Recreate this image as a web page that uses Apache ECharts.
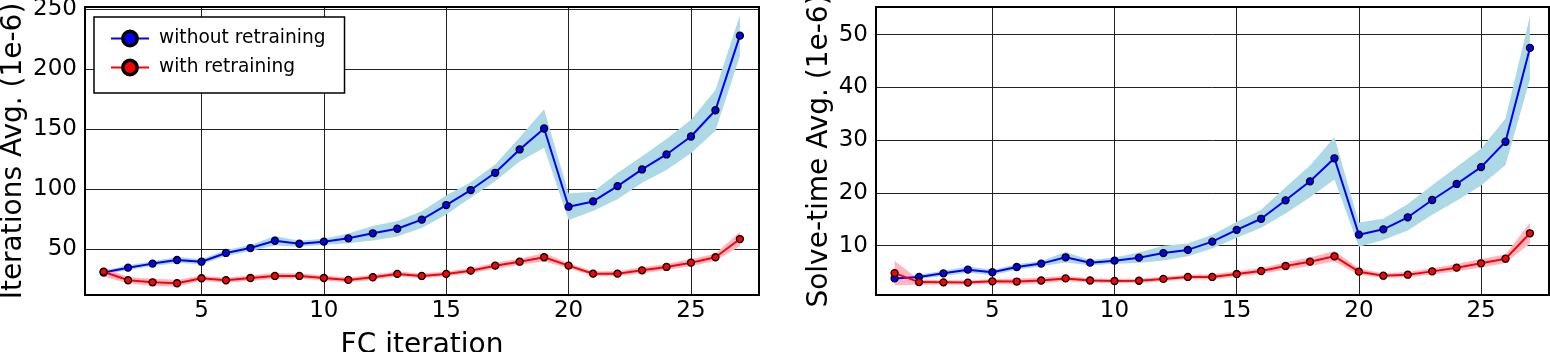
<!DOCTYPE html>
<html>
<head>
<meta charset="utf-8">
<script src="https://cdn.jsdelivr.net/npm/echarts@6/dist/echarts.min.js"></script>
<style>
html,body{margin:0;padding:0;background:#fff;}
#chart{width:1550px;height:352px;}
</style>
</head>
<body>
<div id="chart"></div>
<script>
// ---- data ----
const fcIter = [1,2,3,4,5,6,7,8,9,10,11,12,13,14,15,16,17,18,19,20,21,22,23,24,25,26,27];
const xTicks = [5,10,15,20,25];
const itTicks = [50,100,150,200,250];
const stTicks = [10,20,30,40,50];

const itWithout = [30.3,34.4,37.8,40.8,39.4,46.7,50.8,56.9,54.4,56.1,58.9,63.1,66.9,74.5,86.7,99.2,113.6,133.1,150.6,85.3,89.7,102.5,116.4,128.9,143.9,165.8,228.1];
const itWithoutStd = [1.5,2,2,2.5,2,2.5,2.5,4,2.5,2.5,4,6,6.5,7,8,6.5,7,10,16,11,8,11,11,13,14,17,17];
const itWith = [31,23.9,22.2,21.4,25.6,23.9,25.8,27.5,27.5,25.8,24.2,26.4,29.2,27.5,29.2,31.9,36.1,39.4,43.1,36.1,29.4,29.4,32.2,35,38.6,43.1,58.3];
const itWithStd = [4,2.5,3,3,2,2,2,2.5,2,2,2,2,2,2,2,2,2.5,2.5,3.5,2,2,2,2.5,2.5,3,3,6];

const stWithout = [3.8,4.07,4.76,5.45,4.96,5.96,6.6,7.8,6.78,7.16,7.73,8.6,9.2,10.76,13.0,15.1,18.6,22.2,26.57,12.09,13.1,15.38,18.66,21.7,24.9,29.7,47.5];
const stWithoutStd = [0.5,0.4,0.5,0.6,0.5,0.5,0.5,1,0.5,0.6,1,1.4,1.2,1.3,1.5,1.7,2.5,3,4,2.3,2,2.5,2.8,3.2,3.5,4.4,6];
const stWith = [4.8,3.1,3.05,3.0,3.25,3.2,3.4,3.8,3.4,3.3,3.35,3.7,4.07,4.07,4.63,5.2,6.15,6.97,7.99,5.07,4.31,4.5,5.13,5.83,6.66,7.53,12.35];
const stWithStd = [2.3,0.5,0.4,0.4,0.4,0.6,0.5,0.5,0.4,0.4,0.4,0.4,0.4,0.5,0.5,0.5,0.7,0.8,1,0.6,0.4,0.5,0.6,0.7,0.8,0.8,2];

const NAME_WO = 'without retraining';
const NAME_W = 'with retraining';
const FONT = 'DejaVu Sans';

function pairs(vals){ return fcIter.map((x,i)=>[x, vals[i]]); }

// shaded band (mean ± std) drawn as one polygon through the axis scales
function band(idx, m, s, color){
  const data = fcIter.map((x,i)=>[x, m[i]-s[i], m[i]+s[i]]);
  return {
    type:'custom', xAxisIndex:idx, yAxisIndex:idx, silent:true, z:1,
    encode:{x:0, y:[1,2]},
    data:data,
    clip:true,
    renderItem:function(params, api){
      if (params.dataIndex !== 0) return null;
      const up = [], lo = [];
      for (let i=0;i<data.length;i++){
        up.push(api.coord([data[i][0], data[i][2]]));
        lo.push(api.coord([data[i][0], data[i][1]]));
      }
      const pts = up.concat(lo.reverse());
      return {type:'polygon', shape:{points:pts}, style:{fill:color, stroke:null}};
    }
  };
}
function mainLine(idx, name, m, color){
  return {type:'line', name:name, xAxisIndex:idx, yAxisIndex:idx, data:pairs(m),
    symbol:'circle', symbolSize:7, z:3,
    lineStyle:{color:color, width:2},
    itemStyle:{color:color, borderColor:'#000', borderWidth:1.3}};
}

const gridLine = {show:true, lineStyle:{color:'#222', width:1}};
function xAxis(idx, withName){
  const a = {type:'value', gridIndex:idx, min:0.24, max:27.78,
    axisLine:{show:false},
    axisTick:{show:false, customValues:xTicks},
    axisLabel:{customValues:xTicks, color:'#000', fontSize:23, fontFamily:FONT, margin:5},
    splitLine:gridLine};
  if (withName){
    a.name='FC iteration'; a.nameLocation='middle'; a.nameGap=37;
    a.nameTextStyle={color:'#000', fontSize:28, fontFamily:FONT};
  }
  return a;
}
function yAxis(idx, name, mn, mx, ticks, gap){
  return {type:'value', gridIndex:idx, min:mn, max:mx,
    name:name, nameLocation:'middle', nameGap:gap, nameRotate:90,
    nameTextStyle:{color:'#000', fontSize:28, fontFamily:FONT},
    axisLine:{show:false},
    axisTick:{show:false, customValues:ticks},
    axisLabel:{customValues:ticks, color:'#000', fontSize:23, fontFamily:FONT, margin:8},
    splitLine:gridLine};
}

const option = {
  animation:false,
  backgroundColor:'#fff',
  textStyle:{fontFamily:FONT},
  grid:[
    {left:85, top:7, width:674, height:288, show:true, borderColor:'#000', borderWidth:2,
     backgroundColor:'transparent', z:5, containLabel:false, outerBoundsMode:'none'},
    {left:876, top:7, width:673, height:288, show:true, borderColor:'#000', borderWidth:2,
     backgroundColor:'transparent', z:5, containLabel:false, outerBoundsMode:'none'}
  ],
  xAxis:[xAxis(0,true), xAxis(1,false)],
  yAxis:[
    yAxis(0,'Iterations Avg. (1e-6)',11.6,252,itTicks,57),
    yAxis(1,'Solve-time Avg. (1e-6)',0.65,55.25,stTicks,42)
  ],
  legend:{
    data:[
      {name:NAME_WO, itemStyle:{borderColor:'#000', borderWidth:3.5}},
      {name:NAME_W, itemStyle:{borderColor:'#000', borderWidth:3.5}}
    ],
    left:94, top:17, orient:'vertical',
    backgroundColor:'#fff', borderColor:'#000', borderWidth:1.5,
    padding:[12,19,16,16], itemGap:10, itemWidth:38, itemHeight:18,
    textStyle:{fontSize:18.6, fontFamily:FONT, color:'#000', padding:[0,0,0,5]},
    z:10
  },
  series:[
    band(0, itWithout, itWithoutStd, '#add8e6'),
    mainLine(0, NAME_WO, itWithout, '#0000ff'),
    band(0, itWith, itWithStd, '#ffb6c1'),
    mainLine(0, NAME_W, itWith, '#ff0000'),
    band(1, stWithout, stWithoutStd, '#add8e6'),
    mainLine(1, NAME_WO, stWithout, '#0000ff'),
    band(1, stWith, stWithStd, '#ffb6c1'),
    mainLine(1, NAME_W, stWith, '#ff0000')
  ]
};
const chart = echarts.init(document.getElementById('chart'), null, {renderer:'canvas'});
chart.setOption(option);
</script>
</body>
</html>
